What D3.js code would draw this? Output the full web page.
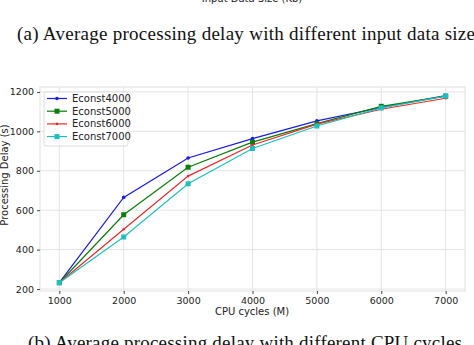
<!DOCTYPE html>
<html>
<head>
	<script src="https://d3js.org/d3.v7.min.js"></script>
	<meta charset="UTF-8">
	<style>
		body{ margin:0; background-color:#ffffff; }
		svg{ display:block; }
	</style>
</head>
<body>
	<script type="text/javascript">
		// CPU cycles (M) on the x axis
		var cycles = [1000, 2000, 3000, 4000, 5000, 6000, 7000];
		var seriesNames = ["Econst4000", "Econst5000", "Econst6000", "Econst7000"];
		// average processing delay (s)
		var econst4000 = [232, 665, 865, 963, 1053, 1121, 1181];
		var econst5000 = [232, 577, 818, 945, 1039, 1127, 1179];
		var econst6000 = [232, 503, 773, 931, 1037, 1112, 1168];
		var econst7000 = [232, 464, 734, 913, 1027, 1119, 1179];
		var yTicks = [200, 400, 600, 800, 1000, 1200];

		var colors = ["#1a1ae6", "#0a7d0a", "#ec2a2a", "#1fbfbf"];
		var markers = ["dot", "square", "small", "square"];
		var allSeries = [econst4000, econst5000, econst6000, econst7000];

		var w = 474, h = 345;
		var svg = d3.select("body").append("svg").attr("width", w).attr("height", h);

		var xScale = d3.scaleLinear().domain([700, 7300]).range([40, 465]);
		var yScale = d3.scaleLinear().domain([190, 1225]).range([291, 87]);

		//captions
		svg.append("text").attr("x", 252).attr("y", 2).attr("text-anchor", "middle")
			.style("font-family", "DejaVu Sans").style("font-size", "10px").attr("fill", "#222")
			.text("Input Data Size (Kb)");
		svg.append("text").attr("x", 17).attr("y", 40)
			.attr("textLength", 458).attr("lengthAdjust", "spacing")
			.style("font-family", "Liberation Serif").style("font-size", "19px").attr("fill", "#111")
			.text("(a)  Average processing delay with different input data size");
		svg.append("text").attr("x", 28).attr("y", 349)
			.attr("textLength", 434).attr("lengthAdjust", "spacing")
			.style("font-family", "Liberation Serif").style("font-size", "19px").attr("fill", "#111")
			.text("(b)  Average processing delay with different CPU cycles");

		//grid
		var grid = svg.append("g");
		grid.selectAll(".gx").data(cycles).enter().append("line")
			.attr("x1", function(d){return xScale(d);}).attr("x2", function(d){return xScale(d);})
			.attr("y1", yScale.range()[1]).attr("y2", yScale.range()[0])
			.attr("stroke", "#e4e4e4").attr("stroke-width", 1);
		grid.selectAll(".gy").data(yTicks).enter().append("line")
			.attr("y1", function(d){return yScale(d);}).attr("y2", function(d){return yScale(d);})
			.attr("x1", xScale.range()[0]).attr("x2", xScale.range()[1])
			.attr("stroke", "#e4e4e4").attr("stroke-width", 1);
		svg.append("rect").attr("x", 40).attr("y", 87).attr("width", 425).attr("height", 204)
			.attr("fill", "none").attr("stroke", "#e0e0e0").attr("stroke-width", 1);

		//axes
		var xAxis = d3.axisBottom(xScale).tickValues(cycles).tickSize(3).tickPadding(3).tickFormat(d3.format("d"));
		var yAxis = d3.axisLeft(yScale).tickValues(yTicks).tickSize(3).tickPadding(3).tickFormat(d3.format("d"));
		var gx = svg.append("g").attr("transform", "translate(0,291)").call(xAxis);
		var gy = svg.append("g").attr("transform", "translate(40,0)").call(yAxis);
		[gx, gy].forEach(function(g){
			g.select(".domain").remove();
			g.selectAll("line").attr("stroke", "#444");
			g.selectAll("text").attr("fill", "#222").style("font-family", "DejaVu Sans").style("font-size", "9.5px");
		});

		//axis labels
		svg.append("text").attr("x", 252).attr("y", 315).attr("text-anchor", "middle")
			.style("font-family", "DejaVu Sans").style("font-size", "10px").attr("fill", "#222")
			.text("CPU cycles (M)");
		svg.append("text").attr("transform", "translate(8,175) rotate(-90)").attr("text-anchor", "middle")
			.style("font-family", "DejaVu Sans").style("font-size", "10px").attr("fill", "#222")
			.text("Processing Delay (s)");

		//lines + markers
		var line = d3.line().x(function(d, i){return xScale(cycles[i]);}).y(function(d){return yScale(d);});
		function drawMarker(g, kind, x, y, c){
			if (kind == "square") {
				g.append("rect").attr("x", x - 2.5).attr("y", y - 2.5).attr("width", 5).attr("height", 5).attr("fill", c);
			} else {
				g.append("circle").attr("cx", x).attr("cy", y).attr("r", kind == "dot" ? 1.8 : 1.3).attr("fill", c);
			}
		}
		allSeries.forEach(function(s, k){
			svg.append("path").attr("d", line(s)).attr("fill", "none")
				.attr("stroke", colors[k]).attr("stroke-width", 1.2);
			var g = svg.append("g");
			s.forEach(function(d, i){ drawMarker(g, markers[k], xScale(cycles[i]), yScale(d), colors[k]); });
		});

		//legend
		var lg = svg.append("g").attr("transform", "translate(44,92)");
		lg.append("rect").attr("width", 84).attr("height", 54).attr("rx", 2)
			.attr("fill", "#ffffff").attr("fill-opacity", 0.85).attr("stroke", "#dcdcdc");
		seriesNames.forEach(function(name, k){
			var yy = 6.5 + k * 12.7;
			lg.append("line").attr("x1", 3).attr("x2", 23).attr("y1", yy).attr("y2", yy)
				.attr("stroke", colors[k]).attr("stroke-width", 1.2);
			drawMarker(lg, markers[k], 13, yy, colors[k]);
			lg.append("text").attr("x", 28).attr("y", yy + 3.5)
				.style("font-family", "DejaVu Sans").style("font-size", "10px").attr("fill", "#222")
				.text(name);
		});
	</script>
</body>
</html>
